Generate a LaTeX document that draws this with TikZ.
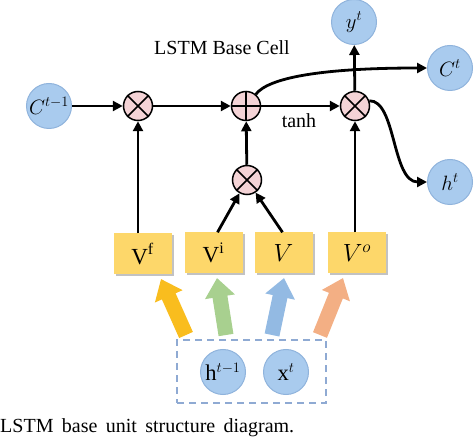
\documentclass[tikz,border=0pt]{standalone}
\usepackage{fontspec}
\setmainfont{Liberation Serif}
\usetikzlibrary{arrows.meta,shadows,calc}
\definecolor{cblue}{HTML}{A9CBEE}
\definecolor{cblueb}{HTML}{8FB3DC}
\definecolor{gpink}{HTML}{F4D3D6}
\definecolor{byel}{HTML}{FDD76A}
\definecolor{dashc}{HTML}{8FAAD3}
\definecolor{aor}{HTML}{F9BD1E}
\definecolor{agr}{HTML}{A8D08F}
\definecolor{abl}{HTML}{93BAE3}
\definecolor{ape}{HTML}{F3AF84}
\begin{document}
\begin{tikzpicture}[x=1pt,y=-1pt,
  every node/.style={font=\fontsize{20}{24}\selectfont},
  state/.style={circle, fill=cblue, draw=cblueb, line width=1pt, minimum size=45pt, inner sep=0pt,
    font=\fontsize{22.5}{26}\selectfont},
  gate/.style={circle, fill=gpink, draw=black, line width=1.5pt, minimum size=29pt, inner sep=0pt},
  wbox/.style={rectangle, fill=byel, minimum width=58pt, minimum height=41pt, inner sep=0pt,
    font=\fontsize{23}{26}\selectfont,
    drop shadow={shadow xshift=2pt, shadow yshift=-2pt, fill=black!40, opacity=0.6}},
  conn/.style={line width=2.8pt, -{Triangle[length=10pt,width=10pt]}},
  fat/.style={line width=15pt, line cap=butt, -{Triangle[length=19pt,width=29pt]}},
  gline/.style={line width=1.5pt},
]
\useasboundingbox (0,0) rectangle (474,438);

% state circles
\node[state] (ctm1) at (49,106) {$C^{t-1}$};
\node[state] (yt) at (354,22) {$y^{t}$};
\node[state] (Ct) at (450,68) {$C^{t}$};
\node[state] (ht) at (450,182) {$h^{t}$};

% gates
\node[gate] (m1) at (138,106) {};
\node[gate] (p) at (246,106) {};
\node[gate] (m3) at (355,106) {};
\node[gate] (m2) at (247,180) {};
\draw[gline] (m1.north east) -- (m1.south west) (m1.north west) -- (m1.south east);
\draw[gline] (m2.north east) -- (m2.south west) (m2.north west) -- (m2.south east);
\draw[gline] (m3.north east) -- (m3.south west) (m3.north west) -- (m3.south east);
\draw[gline] (p.north) -- (p.south) (p.east) -- (p.west);

% texts
\node (title) at (222,48) {LSTM Base Cell};
\node (tanh) at (299,121) {tanh};

% weight boxes
\node[wbox] (Vf) at (142.5,254) {$\mathrm{V}^{\mathrm{f}}$};
\node[wbox] (Vi) at (213.5,253) {$\mathrm{V}^{\mathrm{i}}$};
\node[wbox] (V) at (283.5,253) {$V$};
\node[wbox] (Vo) at (357,253) {$V^{o}$};

% inputs
\node[draw=dashc, line width=1.5pt, dash pattern=on 7pt off 5pt,
      minimum width=149pt, minimum height=63pt, inner sep=0pt] (inbox) at (251.5,371.5) {};
\node[state] (htm1) at (223,372) {$\mathrm{h}^{t-1}$};
\node[state] (xt) at (286,372) {$\mathrm{x}^{t}$};

% connectors
\draw[conn] (ctm1) -- (m1);
\draw[conn] (m1) -- (p);
\draw[conn] (p) -- (m3);
\draw[conn] (m2) -- (p);
\draw[conn] (m3) -- (yt);
\draw[conn] (Vf.north -| m1) -- (m1);
\draw[conn] (Vo.north -| m3) -- (m3);
\draw[conn] ([xshift=4pt]Vi.north) -- (m2);
\draw[conn] ([xshift=-1pt]V.north) -- (m2);
\draw[conn] (p.50) .. controls (268,78) and (320,68) .. (Ct.west);
\draw[conn] (m3.20) .. controls (396,100) and (392,182) .. (ht.west);

% fat arrows
\coordinate (ta) at (186,335); \coordinate (ha) at (161,279);
\coordinate (tb) at (226,335); \coordinate (hb) at (217,278);
\coordinate (tc) at (272,335); \coordinate (hc) at (284,278);
\coordinate (td) at (320,335); \coordinate (hd) at (343,278);
\draw[fat, aor] (ta) -- (ha);
\draw[fat, agr] (tb) -- (hb);
\draw[fat, abl] (tc) -- (hc);
\draw[fat, ape] (td) -- (hd);

% caption
\node[anchor=base west, inner sep=0pt] (cap) at (0,432) {\makebox[294pt][s]{LSTM base unit structure diagram.}};
\end{tikzpicture}
\end{document}
